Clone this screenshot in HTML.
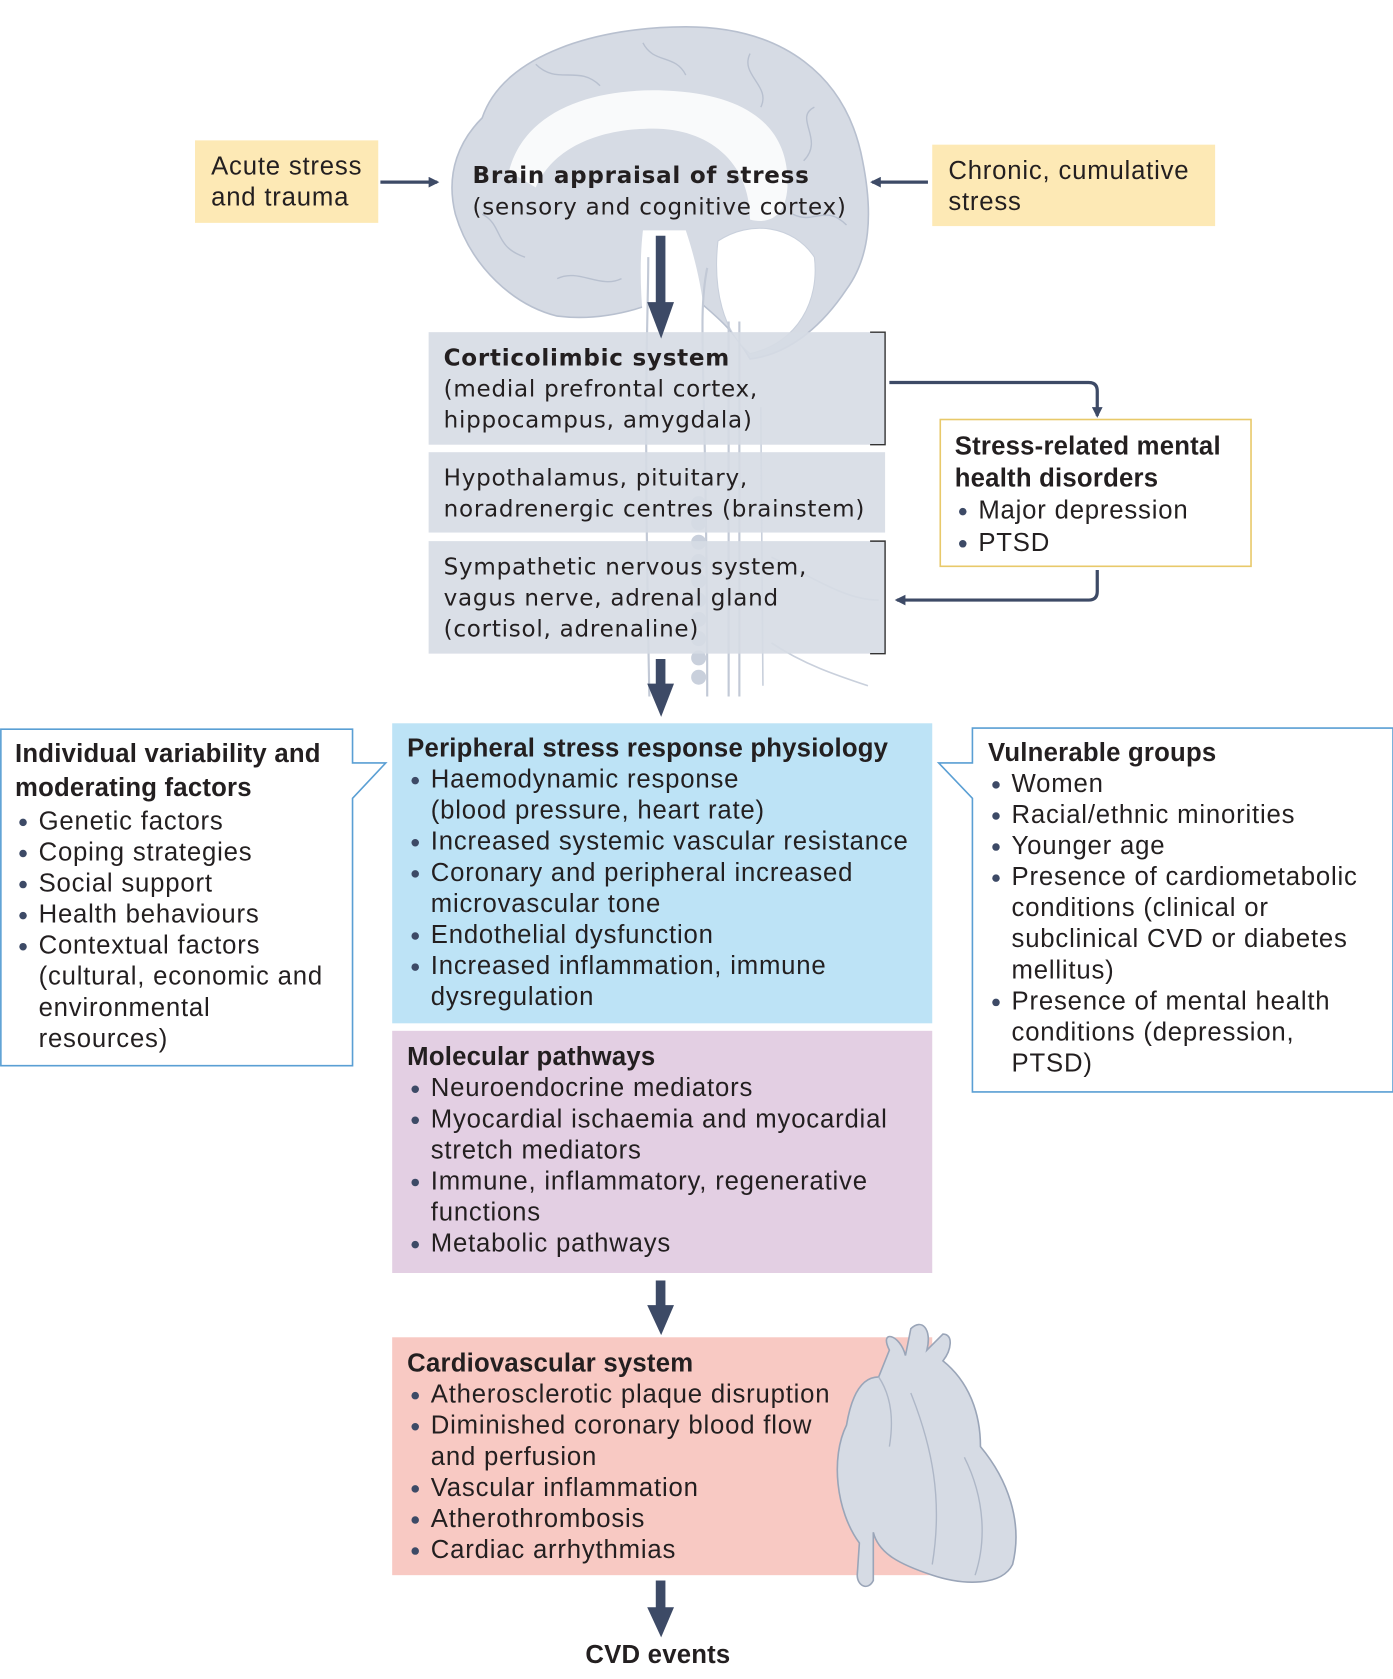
<!DOCTYPE html>
<html><head><meta charset="utf-8">
<style>
html,body{margin:0;padding:0;background:#fff;}
body{width:1393px;height:1679px;overflow:hidden;position:relative;}
#c{position:absolute;left:0;top:0;width:1300px;height:1567px;transform:scale(1.07154);transform-origin:0 0;font-family:"Liberation Sans",sans-serif;color:#231f20;}
.a{position:absolute;}
.t{font-size:24px;line-height:29px;letter-spacing:0.75px;}
.t b{letter-spacing:0.2px;}
.d{font-family:"DejaVu Sans",sans-serif;font-size:21.5px;line-height:29px;letter-spacing:0.7px;}
ul{list-style:none;margin:0;padding:0;}
li{position:relative;padding-left:22px;}
li:before{content:"";position:absolute;left:4px;top:12px;width:7px;height:7px;border-radius:50%;background:#3d4a66;}
b{font-weight:bold;}
</style></head><body><div id="c">
<svg class="a" style="left:0;top:0" width="1300" height="1567">
<defs><marker id="ah" markerWidth="10" markerHeight="10" refX="8" refY="5" orient="auto" markerUnits="userSpaceOnUse"><path d="M0,0 L10,5 L0,10 z" fill="#3d4a66"/></marker></defs>
<path d="M450,110 C470,50 560,25 640,25 C730,25 790,70 805,150 C815,200 812,240 790,270 C770,300 740,330 700,335 C680,300 660,290 640,270 C600,290 560,300 520,295 C480,285 440,250 425,200 C415,160 430,130 450,110 Z" fill="#d6dbe4" stroke="#b8c0cf" stroke-width="1.5"/>
<path d="M475,160 C490,100 560,80 630,85 C700,90 735,120 735,170 C735,200 720,210 700,205 C700,150 660,120 610,120 C555,120 515,140 500,175 Z" fill="#fff" fill-opacity="0.85"/>
<path d="M500,60 C520,80 540,60 560,80 M600,40 C610,60 630,50 640,70 M700,50 C690,70 720,80 710,100 M760,100 C740,110 770,130 750,150 M450,200 C470,210 460,230 490,240 M520,260 C540,250 560,270 580,260 M740,200 C760,210 770,190 790,210" stroke="#b8c0cf" stroke-width="1.3" fill="none"/>
<path d="M670,225 C700,205 740,210 760,240 C765,280 745,320 700,330 C675,310 665,270 670,225 Z" fill="#fff" stroke="#c9d0dc"/>
<path d="M600,215 L640,215 C655,260 660,300 660,340 L665,650 L600,650 L605,340 C600,300 595,260 600,215 Z" fill="#fff"/>
<path d="M605,240 C605,300 600,340 606,650 M660,250 C650,300 660,340 660,650 M680,300 L680,650 M690,300 L690,650" stroke="#c2c9d6" stroke-width="2" fill="none"/>
<g fill="#c9d0dc"><circle cx="652" cy="470" r="7"/><circle cx="652" cy="488" r="7"/><circle cx="652" cy="506" r="7"/><circle cx="652" cy="524" r="7"/><circle cx="652" cy="542" r="7"/><circle cx="652" cy="560" r="7"/><circle cx="652" cy="578" r="7"/><circle cx="652" cy="596" r="7"/><circle cx="652" cy="614" r="7"/><circle cx="652" cy="632" r="7"/></g>
<path d="M710,380 L712,640 M720,520 C760,540 790,560 820,560 M720,600 C750,620 780,630 810,640" stroke="#c9d0dc" stroke-width="1.5" fill="none"/>
<rect x="182" y="131" width="171" height="77" fill="#fde9b5"/>
<rect x="870" y="135" width="264" height="76" fill="#fde9b5"/>
<rect x="400" y="310" width="426" height="105" fill="#d6dbe4" fill-opacity="0.9"/>
<rect x="400" y="422" width="426" height="75" fill="#d6dbe4" fill-opacity="0.9"/>
<rect x="400" y="505" width="426" height="105" fill="#d6dbe4" fill-opacity="0.9"/>
<path d="M812,310 H826 V415 H812 M812,505 H826 V610 H812" stroke="#333" stroke-width="1.3" fill="none"/>
<rect x="877.5" y="391.5" width="290" height="137" fill="#fff" stroke="#e8c96a" stroke-width="1.5"/>
<rect x="366" y="675" width="504" height="280" fill="#bde3f6"/>
<rect x="366" y="962" width="504" height="226" fill="#e3cfe3"/>
<rect x="366" y="1248" width="504" height="222" fill="#f8c9c3"/>
<path d="M329,712 L360,712 L329,745 L329,994.5 L0.8,994.5 L0.8,680.5 L329,680.5 Z" fill="#fff" stroke="#5a9fd4" stroke-width="1.5"/>
<path d="M907.5,712 L876,712 L907.5,745 L907.5,1019 L1300,1019 L1300,679.5 L907.5,679.5 Z" fill="#fff" stroke="#5a9fd4" stroke-width="1.5"/>
<path d="M830,1260 C820,1240 840,1245 845,1265 L850,1240 C860,1230 870,1240 865,1260 L880,1245 C890,1245 888,1260 880,1270 C905,1290 915,1320 915,1350 C940,1380 955,1420 945,1460 C935,1480 900,1480 870,1470 C840,1460 820,1450 815,1430 L815,1475 C810,1485 800,1480 800,1470 L802,1440 C780,1410 775,1360 790,1330 C795,1300 805,1285 820,1285 Z" fill="#d6dbe4" stroke="#9aa5b8" stroke-width="1.5"/>
<path d="M820,1285 C830,1300 835,1320 830,1350 M850,1300 C870,1350 880,1400 870,1460 M900,1360 C920,1400 920,1440 910,1470" stroke="#aeb7c7" stroke-width="1.3" fill="none"/>
<g stroke="#3d4a66" stroke-width="3" fill="none">
<line x1="355" y1="170" x2="408" y2="170" marker-end="url(#ah)"/>
<line x1="866" y1="170" x2="814" y2="170" marker-end="url(#ah)"/>
<path d="M830,357 H1016 Q1024,357 1024,365 V388" marker-end="url(#ah)"/>
<path d="M1024,532 V552 Q1024,560 1016,560 H837" marker-end="url(#ah)"/>
</g>
<g fill="#3d4a66">
<rect x="612" y="220" width="9" height="65"/><path d="M604,282 L629,282 L617,316 Z"/>
<rect x="612" y="615" width="9" height="25"/><path d="M604,638 L629,638 L617,669 Z"/>
<rect x="612" y="1195" width="9" height="25"/><path d="M604,1218 L629,1218 L617,1246 Z"/>
<rect x="612" y="1475" width="9" height="28"/><path d="M604,1500 L629,1500 L617,1528 Z"/>
</g>
</svg>

<div class="a t" style="left:197px;top:141px">Acute stress<br>and trauma</div>
<div class="a t" style="left:885px;top:145px">Chronic, cumulative<br>stress</div>
<div class="a d" style="left:441px;top:150px"><b>Brain appraisal of stress</b><br>(sensory and cognitive cortex)</div>
<div class="a d" style="left:414px;top:320px"><b>Corticolimbic system</b><br>(medial prefrontal cortex,<br>hippocampus, amygdala)</div>
<div class="a d" style="left:414px;top:432px">Hypothalamus, pituitary,<br>noradrenergic centres (brainstem)</div>
<div class="a d" style="left:414px;top:515px">Sympathetic nervous system,<br>vagus nerve, adrenal gland<br>(cortisol, adrenaline)</div>
<div class="a t" style="left:891px;top:402px;line-height:30px"><b>Stress-related mental<br>health disorders</b><ul><li>Major depression</li><li>PTSD</li></ul></div>
<div class="a t" style="left:14px;top:688px"><b style="line-height:32px">Individual variability and<br>moderating factors</b><ul><li>Genetic factors</li><li>Coping strategies</li><li>Social support</li><li>Health behaviours</li><li>Contextual factors<br>(cultural, economic and<br>environmental<br>resources)</li></ul></div>
<div class="a t" style="left:380px;top:684px"><b>Peripheral stress response physiology</b><ul><li>Haemodynamic response<br>(blood pressure, heart rate)</li><li>Increased systemic vascular resistance</li><li>Coronary and peripheral increased<br>microvascular tone</li><li>Endothelial dysfunction</li><li>Increased inflammation, immune<br>dysregulation</li></ul></div>
<div class="a t" style="left:380px;top:972px"><b>Molecular pathways</b><ul><li>Neuroendocrine mediators</li><li>Myocardial ischaemia and myocardial<br>stretch mediators</li><li>Immune, inflammatory, regenerative<br>functions</li><li>Metabolic pathways</li></ul></div>
<div class="a t" style="left:380px;top:1258px"><b>Cardiovascular system</b><ul><li>Atherosclerotic plaque disruption</li><li>Diminished coronary blood flow<br>and perfusion</li><li>Vascular inflammation</li><li>Atherothrombosis</li><li>Cardiac arrhythmias</li></ul></div>
<div class="a t" style="left:922px;top:688px"><b>Vulnerable groups</b><ul><li>Women</li><li>Racial/ethnic minorities</li><li>Younger age</li><li>Presence of cardiometabolic<br>conditions (clinical or<br>subclinical CVD or diabetes<br>mellitus)</li><li>Presence of mental health<br>conditions (depression,<br>PTSD)</li></ul></div>
<div class="a t" style="left:514px;top:1530px;width:200px;text-align:center"><b>CVD events</b></div>
</div></body></html>
